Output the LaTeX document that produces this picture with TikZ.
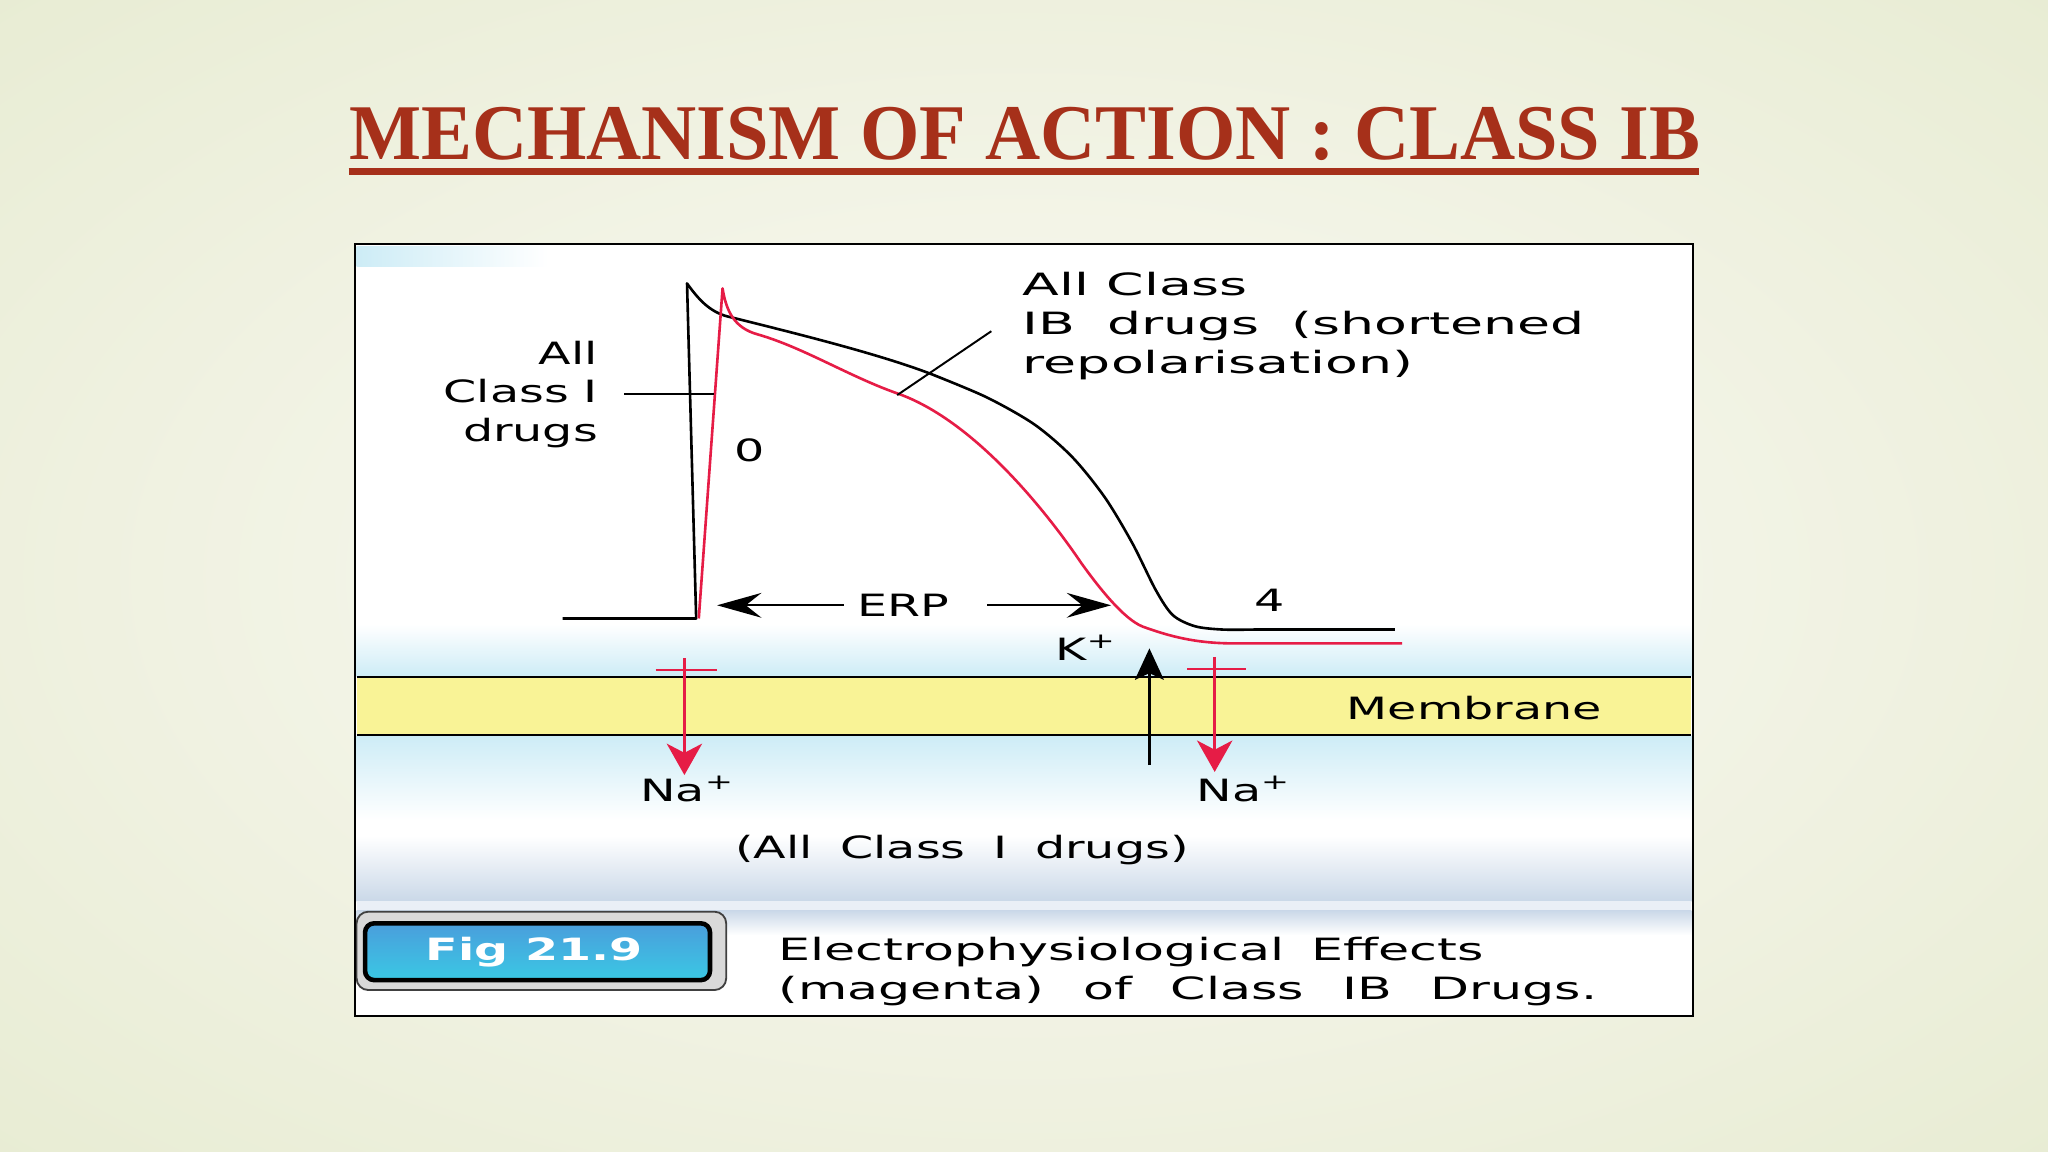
\documentclass[tikz,border=0pt]{standalone}
\usepackage{graphicx}
\usepackage{fontspec}
\setmainfont{Liberation Serif}
\newfontfamily\labelfont[FakeStretch=1.55]{DejaVu Sans}
\newfontfamily\widefont[FakeStretch=1.75]{DejaVu Sans}
\newfontfamily\capfont[FakeStretch=1.65]{DejaVu Sans}
\usetikzlibrary{arrows.meta}

\definecolor{titlered}{RGB}{166,48,26}
\definecolor{bgin}{RGB}{246,246,236}
\definecolor{bgout}{RGB}{223,230,196}
\definecolor{drugred}{RGB}{230,28,70}
\definecolor{membraneyellow}{RGB}{249,243,150}
\definecolor{icecyan}{RGB}{205,236,246}
\definecolor{paleband}{RGB}{202,216,232}
\definecolor{figblue}{RGB}{74,158,220}
\definecolor{figcyan}{RGB}{58,200,228}
\pgfdeclareradialshading{slidebg}{\pgfpoint{0bp}{0bp}}{color(0bp)=(bgin); color(10bp)=(bgin); color(52bp)=(bgout); color(75bp)=(bgout)}

\begin{document}
\begin{tikzpicture}[x=1pt,y=-1pt,
  lbl/.style={inner sep=0pt, font=\labelfont\fontsize{23.5}{29.5}\selectfont},
  widelbl/.style={inner sep=0pt, font=\widefont\fontsize{23.5}{30}\selectfont},
  caplbl/.style={inner sep=0pt, font=\capfont\fontsize{23.5}{30}\selectfont},
  apline/.style={line width=2pt, line join=round},
  leader/.style={line width=1.5pt},
  erparrow/.style={line width=1.8pt, -{Stealth[length=34pt,width=19pt,inset=12pt]}},
  kflow/.style={line width=2.5pt, -{Stealth[length=24pt,width=22pt,inset=5pt]}},
  naflow/.style={drugred, line width=2.4pt, -{Stealth[length=24pt,width=27pt,inset=7pt]}},
  nabar/.style={drugred, line width=1.6pt}]
\useasboundingbox (0,0) rectangle (1568,882);
\shade[shading=slidebg] (0,0) rectangle (1568,882);

% title
\node[inner sep=0pt, anchor=base west, text=titlered] (title) at (267,122.5)
  {\resizebox{1034pt}{40pt}{\bfseries MECHANISM OF ACTION : CLASS IB}};
\draw[titlered, line width=5pt] (title.base west) ++(0,9) -- ++(1034,0);

% figure panel
\fill[white] (272,187) rectangle (1296,778);
\shade[left color=icecyan, right color=white] (273,189) rectangle (420,204);
\shade[top color=white, bottom color=icecyan] (273,478) rectangle (1295,518);
\shade[top color=icecyan, bottom color=white] (273,563) rectangle (1295,628);
\shade[top color=white, bottom color=paleband] (273,640) rectangle (1295,690);
\fill[paleband!40] (273,690) rectangle (1295,697);
\shade[top color=paleband, bottom color=white] (273,697) rectangle (1295,716);

\fill[membraneyellow] (273,518) rectangle (1295,563);
\draw[line width=1.6pt] (273,518) -- (1295,518);
\draw[line width=1.6pt] (273,563) -- (1295,563);

% action potentials
\draw[apline] (430.8,473.5) -- (533,473.5) -- (526,217)
  .. controls (536,231) and (545,240) .. (560,243)
  .. controls (600,253) and (670,270) .. (712,286)
  -- plot[smooth] coordinates {(712,286) (755,304) (792,325) (821,350) (846,381) (867,416) (885,452) (898,471) (915,479.5) (936,482) (960,482)}
  -- (1068,482);
\draw[apline, drugred] (535,473.5) -- (553.2,220.8)
  .. controls (556,238) and (562,251) .. (580,256)
  .. controls (615,266) and (650,288.2) .. (687,301.2)
  .. controls (745,321.5) and (800,390) .. (828,431.3)
  .. controls (840,448) and (860,474) .. (875,479.8)
  .. controls (895,487) and (915,492.6) .. (945,492.6) -- (1073.5,492.6);

\node[lbl, align=right, anchor=east] (classone) at (458,302) {All\\Class I\\drugs};
\coordinate (classtip) at (547,301);
\draw[leader] ([xshift=20pt]classone.east) -- (classone.east -| classtip);

\node[lbl] (phase0) at (574,344.6) {0};

\node[widelbl, align=left, anchor=north west] (ibtext) at (783,208)
  {All Class\\\makebox[430pt][s]{IB drugs (shortened}\\repolarisation)};
\coordinate (ibfoot) at (686.9,302.5);
\draw[leader] ([xshift=-24pt,yshift=-4pt]ibtext.west) -- (ibfoot);

\node[lbl, anchor=base] (erp) at (691.5,472) {ERP};
\coordinate (erpleft) at (549,462.5);
\coordinate (erpright) at (850.7,462.5);
\draw[erparrow] ([xshift=-10pt]erp.west) -- (erp.west -| erpleft);
\draw[erparrow] ([xshift=29pt]erp.east) -- (erp.east -| erpright);

\node[lbl, anchor=base] (four) at (972.4,468.4) {4};

% ion currents
\node[lbl, anchor=base west] (kion) at (808,505.4) {K\textsuperscript{+}};
\coordinate (ktail) at (880,585.8);
\coordinate (khead) at (880,496.4);
\draw[kflow] (ktail) -- (khead);

\coordinate (natopa) at (524,504);
\coordinate (nabota) at (524,593.4);
\coordinate (natopb) at (930,503);
\coordinate (nabotb) at (930,591);
\draw[naflow] (natopa) -- (nabota);
\draw[naflow] (natopb) -- (nabotb);
\draw[nabar] (natopa) ++(-22,9) -- ++(47,0);
\draw[nabar] (natopb) ++(-21,9) -- ++(45,0);
\node[lbl, anchor=base west] (naa) at (490,613.8) {Na\textsuperscript{+}};
\node[lbl, anchor=base west] (nab) at (915.8,613.8) {Na\textsuperscript{+}};

\node[lbl, anchor=base west] (membr) at (1031,550.8) {Membrane};
\node[lbl, anchor=base] (allone) at (736.5,657) {\makebox[347pt][s]{(All Class I drugs)}};

% caption
\draw[black!75, line width=1.4pt, fill=black!15, rounded corners=9pt] (273,698) rectangle (556,758);
\shadedraw[top color=figblue, bottom color=figcyan, draw=black, line width=3.5pt, rounded corners=7pt] (279.5,706.9) rectangle (543.6,750.4);
\node[lbl, anchor=base, text=white] (figtag) at (409,735) {\bfseries Fig 21.9};
\node[caplbl, anchor=base west] (capone) at (595.8,735) {\makebox[540pt][s]{Electrophysiological Effects}};
\node[caplbl, anchor=base west] (captwo) at (595.8,765) {\makebox[627pt][s]{(magenta) of Class IB Drugs.}};

\draw[line width=1.2pt] (272,187) rectangle (1296,778);
\end{tikzpicture}
\end{document}
